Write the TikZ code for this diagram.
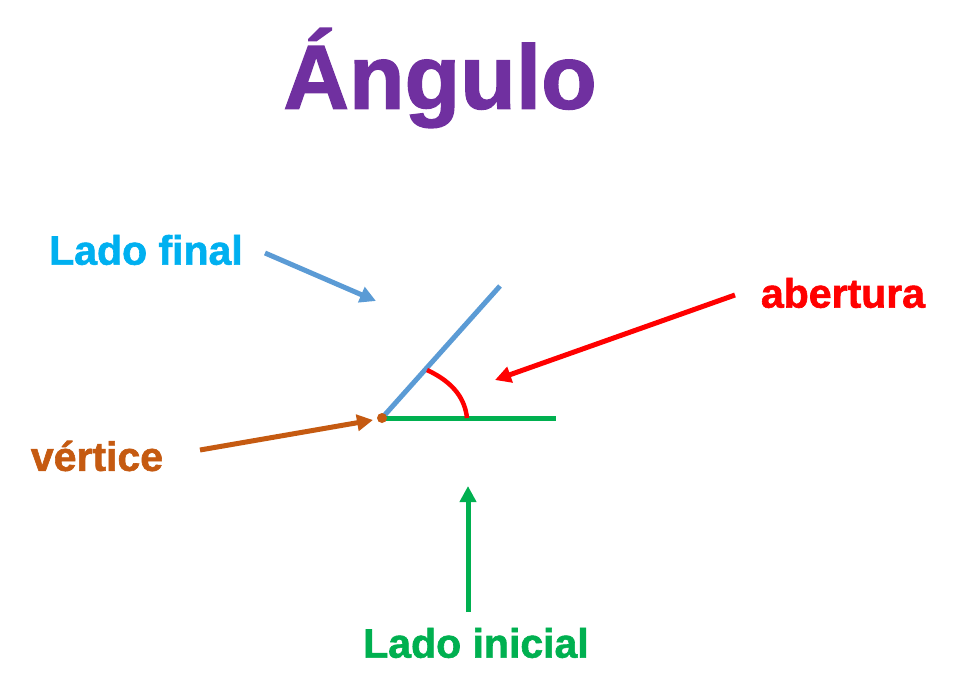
\documentclass[tikz,border=0pt]{standalone}
\usepackage{fontspec}
\setmainfont{Liberation Sans}[BoldFeatures={FakeBold=1.5}]
\usetikzlibrary{arrows.meta}
\definecolor{purp}{HTML}{7030A0}
\definecolor{cyanT}{HTML}{00B0F0}
\definecolor{blueL}{HTML}{5B9BD5}
\definecolor{brownT}{HTML}{C55A11}
\definecolor{greenT}{HTML}{00B050}
\begin{document}
\begin{tikzpicture}[x=1pt,y=-1pt,
  lbl/.style={font=\bfseries\fontsize{41}{44}\selectfont, inner sep=0pt},
  arr/.style={line width=5pt,-{Triangle[length=16pt,width=16pt]}}]
\useasboundingbox (0,0) rectangle (956,691);
\node[font=\bfseries\fontsize{91}{95}\selectfont, text=purp] (title) at (440,78) {Ángulo};
\coordinate (v) at (382,418);
\coordinate (bend) at (500,286);
\coordinate (gend) at (556,418);
\draw[blueL, line width=5pt] (v) -- (bend);
\draw[greenT, line width=5pt] (v) -- (gend);
\coordinate (a1) at (427,370);
\coordinate (a2) at (467,418);
\draw[red, line width=4.5pt] (a1) .. controls (455,383) and (465,400) .. (a2);
\fill[brownT] (v) circle (5);
\node[lbl, text=cyanT] (lf) at (146,250) {Lado final};
\node[lbl, text=red] (ab) at (843,293) {abertura};
\node[lbl, text=brownT] (ve) at (97,456) {vértice};
\node[lbl, text=greenT] (li) at (476,643) {Lado inicial};
\coordinate (lfs) at (265,253); \coordinate (lft) at (376,301);
\coordinate (abs) at (735,295); \coordinate (abt) at (495,380);
\coordinate (ves) at (200,450); \coordinate (vet) at (373,420);
\coordinate (lis) at (468,612); \coordinate (lit) at (468,486);
\draw[arr, blueL] (lfs) -- (lft);
\draw[arr, red] (abs) -- (abt);
\draw[arr, brownT] (ves) -- (vet);
\draw[arr, greenT] (lis) -- (lit);
\end{tikzpicture}
\end{document}
